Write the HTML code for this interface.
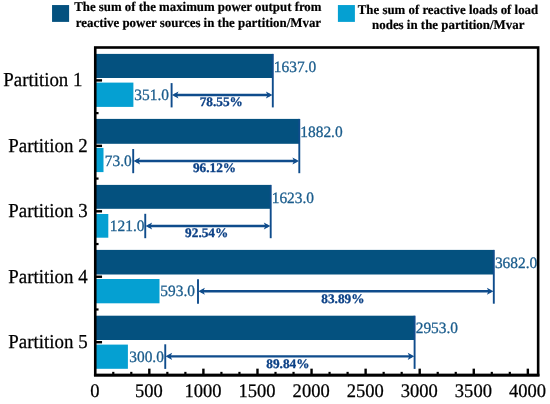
<!DOCTYPE html>
<html><head><meta charset="utf-8"><title>chart</title>
<style>html,body{margin:0;padding:0;background:#fff}svg{display:block}text{text-rendering:geometricPrecision;font-family:"Liberation Serif","Times New Roman",serif}</style></head><body>
<svg width="550" height="404" viewBox="0 0 550 404">
<rect width="550" height="404" fill="#fff"/>
<rect x="52.05" y="5.05" width="17.05" height="16.85" fill="#04517F"/>
<rect x="337.9" y="5.05" width="17" height="16.85" fill="#05A0D2"/>
<g font-weight="bold" font-size="13.3px" fill="#000" stroke="#000" stroke-width="0.2">
<text transform="translate(74.2,11.1) scale(0.9651,1)">The sum of the maximum power output from</text>
<text transform="translate(75.8,26.5) scale(0.9696,1)">reactive power sources in the partition/Mvar</text>
<text transform="translate(357.8,13.5) scale(0.9662,1)">The sum of reactive loads of load</text>
<text transform="translate(372.1,29.0) scale(0.9699,1)">nodes in the partition/Mvar</text>
</g>
<rect x="95.25" y="53.9" width="177.55" height="24.10" fill="#04517F"/>
<rect x="95.25" y="82.6" width="38.15" height="24.30" fill="#05A0D2"/>
<rect x="95.25" y="118.9" width="204.05" height="24.90" fill="#04517F"/>
<rect x="95.25" y="147.9" width="8.25" height="24.20" fill="#05A0D2"/>
<rect x="95.25" y="184.9" width="175.45" height="23.90" fill="#04517F"/>
<rect x="95.25" y="214.0" width="13.05" height="23.70" fill="#05A0D2"/>
<rect x="95.25" y="249.9" width="398.55" height="24.60" fill="#04517F"/>
<rect x="95.25" y="279.0" width="64.25" height="24.30" fill="#05A0D2"/>
<rect x="95.25" y="315.7" width="319.35" height="24.30" fill="#04517F"/>
<rect x="95.25" y="344.6" width="32.65" height="24.20" fill="#05A0D2"/>
<g stroke="#0F4C8C" stroke-width="1.9" fill="none">
<line x1="272.80" y1="53.90" x2="272.80" y2="107.40"/>
<line x1="171.60" y1="83.10" x2="171.60" y2="107.40"/>
<line x1="174.60" y1="95.00" x2="269.80" y2="95.00" stroke-width="2.3"/>
</g>
<path d="M171.90,95.00 L178.50,91.40 L176.90,95.00 L178.50,98.60 Z" fill="#0F4C8C"/>
<path d="M272.50,95.00 L265.90,91.40 L267.50,95.00 L265.90,98.60 Z" fill="#0F4C8C"/>
<text transform="translate(221.30,106.40) scale(1.015,1)" font-size="13.1px" font-weight="bold" text-anchor="middle" fill="#0C4186" stroke="#0C4186" stroke-width="0.3">78.55%</text>
<text transform="translate(273.80,71.60) scale(0.975,1)" font-size="15.8px" fill="#1A5C8C" stroke="#1A5C8C" stroke-width="0.3">1637.0</text>
<text transform="translate(169.00,99.90) scale(0.975,1)" font-size="15.8px" text-anchor="end" fill="#1A5C8C" stroke="#1A5C8C" stroke-width="0.3">351.0</text>
<g stroke="#0F4C8C" stroke-width="1.9" fill="none">
<line x1="299.30" y1="118.90" x2="299.30" y2="173.20"/>
<line x1="133.20" y1="149.00" x2="133.20" y2="173.20"/>
<line x1="136.20" y1="161.00" x2="296.30" y2="161.00" stroke-width="2.3"/>
</g>
<path d="M133.50,161.00 L140.10,157.40 L138.50,161.00 L140.10,164.60 Z" fill="#0F4C8C"/>
<path d="M299.00,161.00 L292.40,157.40 L294.00,161.00 L292.40,164.60 Z" fill="#0F4C8C"/>
<text transform="translate(214.50,172.30) scale(1.015,1)" font-size="13.1px" font-weight="bold" text-anchor="middle" fill="#0C4186" stroke="#0C4186" stroke-width="0.3">96.12%</text>
<text transform="translate(300.30,136.90) scale(0.975,1)" font-size="15.8px" fill="#1A5C8C" stroke="#1A5C8C" stroke-width="0.3">1882.0</text>
<text transform="translate(131.70,166.00) scale(0.975,1)" font-size="15.8px" text-anchor="end" fill="#1A5C8C" stroke="#1A5C8C" stroke-width="0.3">73.0</text>
<g stroke="#0F4C8C" stroke-width="1.9" fill="none">
<line x1="270.70" y1="184.90" x2="270.70" y2="238.20"/>
<line x1="145.25" y1="213.80" x2="145.25" y2="238.20"/>
<line x1="148.25" y1="226.00" x2="267.70" y2="226.00" stroke-width="2.3"/>
</g>
<path d="M145.55,226.00 L152.15,222.40 L150.55,226.00 L152.15,229.60 Z" fill="#0F4C8C"/>
<path d="M270.40,226.00 L263.80,222.40 L265.40,226.00 L263.80,229.60 Z" fill="#0F4C8C"/>
<text transform="translate(206.70,237.40) scale(1.015,1)" font-size="13.1px" font-weight="bold" text-anchor="middle" fill="#0C4186" stroke="#0C4186" stroke-width="0.3">92.54%</text>
<text transform="translate(271.70,202.70) scale(0.975,1)" font-size="15.8px" fill="#1A5C8C" stroke="#1A5C8C" stroke-width="0.3">1623.0</text>
<text transform="translate(144.50,231.00) scale(0.975,1)" font-size="15.8px" text-anchor="end" fill="#1A5C8C" stroke="#1A5C8C" stroke-width="0.3">121.0</text>
<g stroke="#0F4C8C" stroke-width="1.9" fill="none">
<line x1="493.80" y1="249.90" x2="493.80" y2="303.70"/>
<line x1="198.00" y1="279.20" x2="198.00" y2="303.70"/>
<line x1="201.00" y1="291.25" x2="490.80" y2="291.25" stroke-width="2.3"/>
</g>
<path d="M198.30,291.25 L204.90,287.65 L203.30,291.25 L204.90,294.85 Z" fill="#0F4C8C"/>
<path d="M493.50,291.25 L486.90,287.65 L488.50,291.25 L486.90,294.85 Z" fill="#0F4C8C"/>
<text transform="translate(342.90,303.20) scale(1.015,1)" font-size="13.1px" font-weight="bold" text-anchor="middle" fill="#0C4186" stroke="#0C4186" stroke-width="0.3">83.89%</text>
<text transform="translate(494.90,268.00) scale(0.975,1)" font-size="15.8px" fill="#1A5C8C" stroke="#1A5C8C" stroke-width="0.3">3682.0</text>
<text transform="translate(195.00,296.40) scale(0.975,1)" font-size="15.8px" text-anchor="end" fill="#1A5C8C" stroke="#1A5C8C" stroke-width="0.3">593.0</text>
<g stroke="#0F4C8C" stroke-width="1.9" fill="none">
<line x1="414.60" y1="315.70" x2="414.60" y2="368.90"/>
<line x1="165.25" y1="344.30" x2="165.25" y2="368.90"/>
<line x1="168.25" y1="356.30" x2="411.60" y2="356.30" stroke-width="2.3"/>
</g>
<path d="M165.55,356.30 L172.15,352.70 L170.55,356.30 L172.15,359.90 Z" fill="#0F4C8C"/>
<path d="M414.30,356.30 L407.70,352.70 L409.30,356.30 L407.70,359.90 Z" fill="#0F4C8C"/>
<text transform="translate(287.90,368.30) scale(1.015,1)" font-size="13.1px" font-weight="bold" text-anchor="middle" fill="#0C4186" stroke="#0C4186" stroke-width="0.3">89.84%</text>
<text transform="translate(415.70,333.20) scale(0.975,1)" font-size="15.8px" fill="#1A5C8C" stroke="#1A5C8C" stroke-width="0.3">2953.0</text>
<text transform="translate(163.90,361.60) scale(0.975,1)" font-size="15.8px" text-anchor="end" fill="#1A5C8C" stroke="#1A5C8C" stroke-width="0.3">300.0</text>
<rect x="95.25" y="47.5" width="442.9" height="327.65" fill="none" stroke="#000" stroke-width="2.6"/>
<line x1="93.95" y1="375.15" x2="539.4499999999999" y2="375.15" stroke="#000" stroke-width="2.9"/>
<g stroke="#000" stroke-width="2.4">
<line x1="113.28" y1="375.15" x2="113.28" y2="371.84999999999997" stroke-width="2.2"/>
<line x1="131.30" y1="375.15" x2="131.30" y2="371.84999999999997" stroke-width="2.2"/>
<line x1="149.32" y1="375.15" x2="149.32" y2="368.65"/>
<line x1="167.35" y1="375.15" x2="167.35" y2="371.84999999999997" stroke-width="2.2"/>
<line x1="185.38" y1="375.15" x2="185.38" y2="371.84999999999997" stroke-width="2.2"/>
<line x1="203.40" y1="375.15" x2="203.40" y2="368.65"/>
<line x1="221.42" y1="375.15" x2="221.42" y2="371.84999999999997" stroke-width="2.2"/>
<line x1="239.45" y1="375.15" x2="239.45" y2="371.84999999999997" stroke-width="2.2"/>
<line x1="257.48" y1="375.15" x2="257.48" y2="368.65"/>
<line x1="275.50" y1="375.15" x2="275.50" y2="371.84999999999997" stroke-width="2.2"/>
<line x1="293.53" y1="375.15" x2="293.53" y2="371.84999999999997" stroke-width="2.2"/>
<line x1="311.55" y1="375.15" x2="311.55" y2="368.65"/>
<line x1="329.57" y1="375.15" x2="329.57" y2="371.84999999999997" stroke-width="2.2"/>
<line x1="347.60" y1="375.15" x2="347.60" y2="371.84999999999997" stroke-width="2.2"/>
<line x1="365.62" y1="375.15" x2="365.62" y2="368.65"/>
<line x1="383.65" y1="375.15" x2="383.65" y2="371.84999999999997" stroke-width="2.2"/>
<line x1="401.68" y1="375.15" x2="401.68" y2="371.84999999999997" stroke-width="2.2"/>
<line x1="419.70" y1="375.15" x2="419.70" y2="368.65"/>
<line x1="437.72" y1="375.15" x2="437.72" y2="371.84999999999997" stroke-width="2.2"/>
<line x1="455.75" y1="375.15" x2="455.75" y2="371.84999999999997" stroke-width="2.2"/>
<line x1="473.77" y1="375.15" x2="473.77" y2="368.65"/>
<line x1="491.80" y1="375.15" x2="491.80" y2="371.84999999999997" stroke-width="2.2"/>
<line x1="509.82" y1="375.15" x2="509.82" y2="371.84999999999997" stroke-width="2.2"/>
<line x1="527.85" y1="375.15" x2="527.85" y2="368.65"/>
<line x1="95.25" y1="80.40" x2="102.05" y2="80.40"/>
<line x1="95.25" y1="113.12" x2="98.55" y2="113.12" stroke-width="2.2"/>
<line x1="95.25" y1="145.85" x2="102.05" y2="145.85"/>
<line x1="95.25" y1="178.58" x2="98.55" y2="178.58" stroke-width="2.2"/>
<line x1="95.25" y1="211.30" x2="102.05" y2="211.30"/>
<line x1="95.25" y1="244.03" x2="98.55" y2="244.03" stroke-width="2.2"/>
<line x1="95.25" y1="276.75" x2="102.05" y2="276.75"/>
<line x1="95.25" y1="309.48" x2="98.55" y2="309.48" stroke-width="2.2"/>
<line x1="95.25" y1="342.20" x2="102.05" y2="342.20"/>
</g>
<g font-size="19.2px" text-anchor="middle" fill="#000" stroke="#000" stroke-width="0.25">
<text transform="translate(94.85,397.3) scale(0.966,1)">0</text>
<text transform="translate(148.92,397.3) scale(0.966,1)">500</text>
<text transform="translate(203.00,397.3) scale(0.966,1)">1000</text>
<text transform="translate(257.08,397.3) scale(0.966,1)">1500</text>
<text transform="translate(311.15,397.3) scale(0.966,1)">2000</text>
<text transform="translate(365.23,397.3) scale(0.966,1)">2500</text>
<text transform="translate(419.30,397.3) scale(0.966,1)">3000</text>
<text transform="translate(473.38,397.3) scale(0.966,1)">3500</text>
<text transform="translate(527.45,397.3) scale(0.966,1)">4000</text>
</g>
<g font-size="19.8px" text-anchor="end" fill="#000" stroke="#000" stroke-width="0.25">
<text transform="translate(82.5,86.40) scale(0.955,1)">Partition 1</text>
<text transform="translate(87.6,151.85) scale(0.955,1)">Partition 2</text>
<text transform="translate(87.6,217.30) scale(0.955,1)">Partition 3</text>
<text transform="translate(87.6,282.75) scale(0.955,1)">Partition 4</text>
<text transform="translate(87.6,348.20) scale(0.955,1)">Partition 5</text>
</g>
</svg></body></html>
